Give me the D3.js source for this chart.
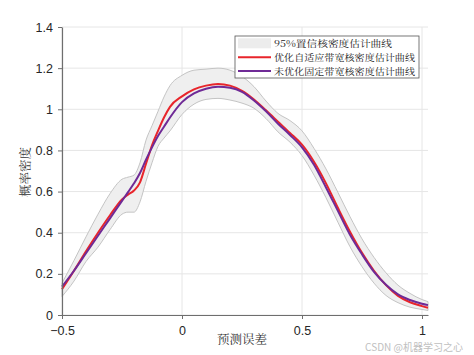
<!DOCTYPE html>
<html><head><meta charset="utf-8">
<script src="https://cdn.jsdelivr.net/npm/d3@7"></script>
<style>body{margin:0;background:#fff;} svg{display:block;}</style>
</head><body><svg id="c" width="474" height="355"></svg>
<script>
const xs = [-0.5,-0.45,-0.4,-0.35,-0.3,-0.25,-0.225,-0.2,-0.175,-0.15,-0.125,-0.1,-0.075,-0.05,0,0.05,0.1,0.15,0.2,0.25,0.3,0.35,0.4,0.45,0.5,0.55,0.6,0.65,0.7,0.75,0.8,0.85,0.9,0.95,1.0,1.025];
const optimized = [0.125,0.215,0.31,0.40,0.485,0.562,0.585,0.605,0.645,0.735,0.825,0.895,0.96,1.012,1.063,1.097,1.115,1.123,1.115,1.09,1.048,0.995,0.94,0.885,0.828,0.745,0.64,0.52,0.405,0.302,0.215,0.145,0.093,0.062,0.043,0.035];
const fixedBw = [0.138,0.215,0.30,0.385,0.47,0.555,0.597,0.64,0.69,0.755,0.815,0.87,0.915,0.96,1.035,1.077,1.10,1.11,1.105,1.085,1.043,0.99,0.93,0.875,0.815,0.73,0.62,0.505,0.39,0.295,0.21,0.147,0.10,0.073,0.055,0.048];
const upper = [0.155,0.265,0.38,0.49,0.59,0.66,0.67,0.68,0.74,0.85,0.92,0.99,1.06,1.115,1.165,1.19,1.195,1.20,1.19,1.16,1.11,1.04,0.98,0.945,0.895,0.81,0.71,0.595,0.478,0.37,0.28,0.205,0.145,0.105,0.075,0.065];
const lower = [0.09,0.165,0.26,0.33,0.415,0.49,0.50,0.50,0.55,0.65,0.74,0.82,0.86,0.895,0.975,1.025,1.048,1.053,1.045,1.03,1.005,0.955,0.89,0.84,0.775,0.68,0.57,0.45,0.332,0.235,0.155,0.095,0.06,0.038,0.027,0.022];
const xTicks = [-0.5,0,0.5,1];
const yTicks = [0,0.2,0.4,0.6,0.8,1,1.2,1.4];
const legendLabels = ["95%置信核密度估计曲线","优化自适应带宽核密度估计曲线","未优化固定带宽核密度估计曲线"];

const svg = d3.select("#c");
const L=62, R=428, T=27, B=315;
const x = d3.scaleLinear().domain([-0.5,1.025]).range([L,R]);
const y = d3.scaleLinear().domain([0,1.4]).range([B,T]);
const font = "'Liberation Sans', Arial, sans-serif";
const cjkSerif = "'Noto Serif CJK SC','Noto Sans CJK SC',serif";

// grid
const g = svg.append("g");
g.selectAll(".gx").data(xTicks).enter().append("line")
 .attr("x1",d=>x(d)).attr("x2",d=>x(d)).attr("y1",T).attr("y2",B)
 .attr("stroke","#e6e6e6").attr("stroke-width",1);
g.selectAll(".gy").data(yTicks).enter().append("line")
 .attr("x1",L).attr("x2",R).attr("y1",d=>y(d)).attr("y2",d=>y(d))
 .attr("stroke","#e6e6e6").attr("stroke-width",1);

const idx = d3.range(xs.length);
const curve = d3.curveMonotoneX;
const area = d3.area().x(i=>x(xs[i])).y0(i=>y(lower[i])).y1(i=>y(upper[i])).curve(curve);
svg.append("path").attr("d",area(idx)).attr("fill","#efefef").attr("stroke","#c4c4c4").attr("stroke-width",1);

const line = arr => d3.line().x(i=>x(xs[i])).y(i=>y(arr[i])).curve(curve)(idx);
svg.append("path").attr("d",line(optimized)).attr("fill","none").attr("stroke","#e8252b").attr("stroke-width",2);
svg.append("path").attr("d",line(fixedBw)).attr("fill","none").attr("stroke","#6f2a96").attr("stroke-width",2);

// axes
const xa = svg.append("g").attr("transform",`translate(0,${B})`)
 .call(d3.axisBottom(x).tickValues(xTicks).tickSize(4).tickSizeOuter(0).tickFormat(d=>d===0?"0":d3.format("")(d)));
const ya = svg.append("g").attr("transform",`translate(${L},0)`)
 .call(d3.axisLeft(y).tickValues(yTicks).tickSize(4).tickSizeOuter(0).tickFormat(d=>d3.format("")(+d.toFixed(1))));
[xa,ya].forEach(a=>{
  a.select(".domain").attr("stroke","#6e6e6e").attr("stroke-width",1.2);
  a.selectAll(".tick line").attr("stroke","#6e6e6e");
  a.selectAll("text").attr("fill","#262626").style("font-family",font).style("font-size","12.5px");
});
xa.selectAll("text").attr("dy","1.05em");
ya.selectAll("text").attr("dx","-2px");

svg.append("text").attr("x",242).attr("y",344).attr("text-anchor","middle")
 .style("font-family",cjkSerif).style("font-size","12.5px").attr("fill","#333").text("预测误差");
svg.append("text").attr("transform","translate(30,172) rotate(-90)").attr("text-anchor","middle")
 .style("font-family",cjkSerif).style("font-size","12.5px").attr("fill","#333").text("概率密度");

// legend
const lg = svg.append("g");
lg.append("rect").attr("x",235).attr("y",36).attr("width",184).attr("height",42).attr("fill","#fff").attr("stroke","#555").attr("stroke-width",0.8);
const rows=[43.3,57.2,71];
lg.append("rect").attr("x",238).attr("y",rows[0]-5).attr("width",33).attr("height",10).attr("fill","#ececec");
lg.append("line").attr("x1",238).attr("x2",271).attr("y1",rows[1]).attr("y2",rows[1]).attr("stroke","#e8252b").attr("stroke-width",2);
lg.append("line").attr("x1",238).attr("x2",271).attr("y1",rows[2]).attr("y2",rows[2]).attr("stroke","#6f2a96").attr("stroke-width",2);
lg.selectAll(".lt").data(legendLabels).enter().append("text")
 .attr("x",274).attr("y",(d,i)=>rows[i]+3.6).style("font-family",cjkSerif)
 .style("font-size","9.5px").attr("fill","#222").attr("textLength",(d,i)=>i===0?118:141).attr("lengthAdjust","spacingAndGlyphs").text(d=>d);

svg.append("text").attr("x",463).attr("y",351).attr("text-anchor","end").style("font-family","'Noto Sans CJK SC',sans-serif")
 .style("font-size","10px").attr("fill","#c0c0c0").text("CSDN @机器学习之心");
</script></body></html>
